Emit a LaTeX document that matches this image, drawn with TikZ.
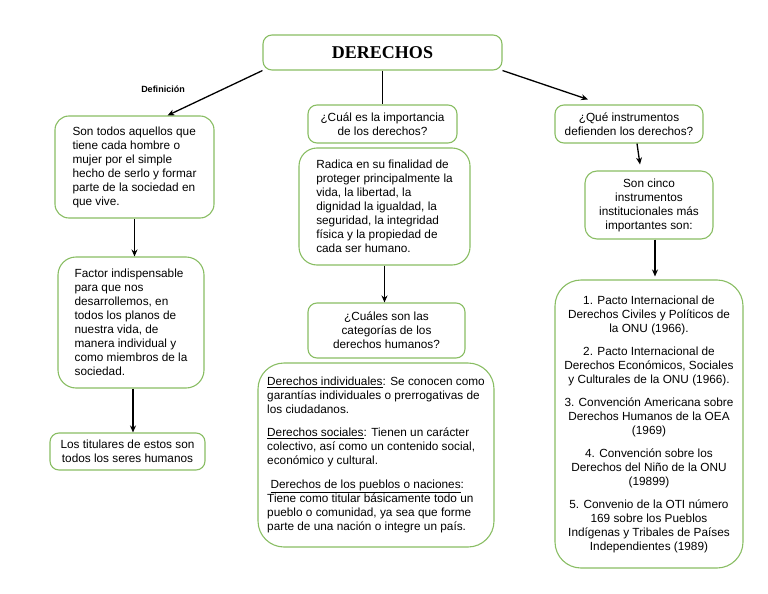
\documentclass[tikz,border=0pt]{standalone}
\usepackage{fontspec}
\setmainfont{Liberation Sans}
\newfontfamily\titlefont{Liberation Serif}
\usepackage{xcolor}
\usepackage{tikz}
\usetikzlibrary{positioning}
\usetikzlibrary{arrows.meta}
\definecolor{boxgreen}{RGB}{137,189,99}

\begin{document}
\begin{tikzpicture}
  [x=1pt, y=-1pt,
    box/.style={draw=boxgreen, line width=1.1pt, rounded corners=9pt,
      inner sep=0pt, font=\fontsize{11.8}{14}\selectfont, align=center},
    ld/.style={draw=black, line width=1.3pt, -{Stealth[length=7pt,width=6pt]}}
  ]
  \useasboundingbox (0,0) rectangle (768,594);

  \node (top) at (382.5,52.5) [box, minimum width=239pt, minimum height=35pt]
    {\titlefont\bfseries\fontsize{18}{20}\selectfont DERECHOS};
  \node (defn) at (163,89) {\bfseries\fontsize{9}{11}\selectfont Definición};

  % columna izquierda
  \node (a1) at (134.5,167) [box, minimum width=159pt, minimum height=102pt, align=left, rounded corners=14pt]
    {Son todos aquellos que\\tiene cada hombre o\\mujer por el simple\\hecho de serlo y formar\\parte de la sociedad en\\que vive.};
  \node (a2) at (131,322.5) [box, minimum width=146pt, minimum height=131pt, align=left, rounded corners=18pt]
    {Factor indispensable\\para que nos\\desarrollemos, en\\todos los planos de\\nuestra vida, de\\manera individual y\\como miembros de la\\sociedad.};
  \node (a3) at (127.5,451.5) [box, minimum width=155pt, minimum height=37pt]
    {Los titulares de estos son\\todos los seres humanos};

  % columna central
  \node (b1) at (382.5,124) [box, minimum width=149pt, minimum height=38pt]
    {¿Cuál es la importancia\\de los derechos?};
  \node (b2) at (384.5,206.5) [box, minimum width=171pt, minimum height=117pt, align=left, rounded corners=18pt]
    {Radica en su finalidad de\\proteger principalmente la\\vida, la libertad, la\\dignidad la igualdad, la\\seguridad, la integridad\\física y la propiedad de\\cada ser humano.};
  \node (b3) at (386.5,330.5) [box, minimum width=157pt, minimum height=55pt]
    {¿Cuáles son las\\categorías de los\\derechos humanos?};
  \node (b4) at (376,455) [box, minimum width=236pt, minimum height=184pt, align=left, rounded corners=26pt]
    {\underline{Derechos individuales}: Se conocen como\\garantías individuales o prerrogativas de\\los ciudadanos.\\[9pt]
     \underline{Derechos sociales}: Tienen un carácter\\colectivo, así como un contenido social,\\económico y cultural.\\[10pt]
     \ \underline{Derechos de los pueblos o naciones}:\\Tiene como titular básicamente todo un\\pueblo o comunidad, ya sea que forme\\parte de una nación o integre un país.};

  % columna derecha
  \node (c1) at (629,124) [box, minimum width=148pt, minimum height=38pt]
    {¿Qué instrumentos\\defienden los derechos?};
  \node (c2) at (649,205) [box, minimum width=128pt, minimum height=68pt, rounded corners=12pt]
    {Son cinco\\instrumentos\\institucionales más\\importantes son:};
  \node (c3) at (649,424) [box, minimum width=188pt, minimum height=288pt, rounded corners=26pt]
    {1. Pacto Internacional de\\Derechos Civiles y Políticos de\\la ONU (1966).\\[9pt]
     2. Pacto Internacional de\\Derechos Económicos, Sociales\\y Culturales de la ONU (1966).\\[9pt]
     3. Convención Americana sobre\\Derechos Humanos de la OEA\\(1969)\\[9pt]
     4. Convención sobre los\\Derechos del Niño de la ONU\\(19899)\\[9pt]
     5. Convenio de la OTI número\\169 sobre los Pueblos\\Indígenas y Tribales de Países\\Independientes (1989)};

  \draw [ld] (top.south west) -- ([xshift=33pt]a1.north);
  \draw [ld] (a1.south) -- (a1.south |- a2.north);
  \draw [ld] ([xshift=2pt]a2.south) -- ([xshift=2pt]a2.south |- a3.north);
  \draw [line width=1.3pt] (top.south) -- (b1.north);
  \draw [ld] (b2.south) -- (b2.south |- b3.north);
  \draw [ld] (top.south east) -- ([xshift=-41pt,yshift=5pt]c1.north);
  \draw [ld] ([xshift=8pt]c1.south) -- ([xshift=-9pt,yshift=6pt]c2.north);
  \draw [ld] ([xshift=6pt]c2.south) -- ([xshift=6pt,yshift=3pt]c3.north);
\end{tikzpicture}
\end{document}
